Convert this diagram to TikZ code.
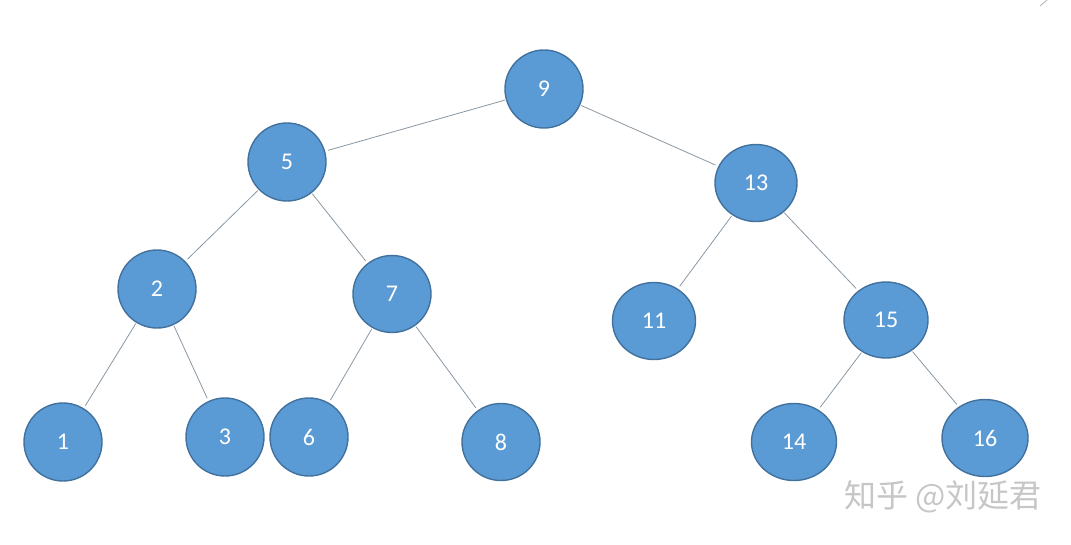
\documentclass[tikz,border=0pt]{standalone}
\usepackage{fontspec}
\setmainfont{Carlito}
\newfontfamily\cjk{Noto Sans CJK SC}
\usepackage{xcolor}
\usetikzlibrary{shapes.geometric}

\definecolor{nodefill}{HTML}{5B9BD5}
\definecolor{nodeline}{HTML}{41719C}
\definecolor{edgegray}{HTML}{8A97A3}
\definecolor{markgray}{HTML}{C6C6C6}

\begin{document}
\begin{tikzpicture}[x=1pt,y=-1pt,
    keynode/.style={ellipse,draw=nodeline,fill=nodefill,line width=1.4pt,
        minimum width=78pt,minimum height=78pt,inner sep=0pt,text=white,
        font=\fontsize{24}{24}\selectfont},
    treeedge/.style={draw=edgegray,line width=0.8pt,shorten <=1pt,shorten >=3pt}]

    % Рамка рисунка
    \useasboundingbox (0,0) rectangle (1071,544);

    % Корень и первый уровень
    \node[keynode] (n9) at (544,89) {9};
    \node[keynode] (n5) at (287,162) {5};
    \node[keynode,minimum width=82pt,minimum height=77pt] (n13) at (756,183) {13};

    % Второй уровень
    \node[keynode] (n2) at (157,289) {2};
    \node[keynode,minimum height=77pt] (n7) at (392,294) {7};
    \node[keynode,minimum width=83pt,minimum height=77pt] (n11) at (654,321) {11};
    \node[keynode,minimum width=84pt,minimum height=76pt] (n15) at (886,320) {15};

    % Листья
    \node[keynode] (n1) at (63,442) {1};
    \node[keynode] (n3) at (225,437) {3};
    \node[keynode] (n6) at (309,437) {6};
    \node[keynode,minimum height=77pt] (n8) at (501,442) {8};
    \node[keynode,minimum width=85pt,minimum height=77pt] (n14) at (794,442) {14};
    \node[keynode,minimum width=86pt,minimum height=77pt] (n16) at (985,438) {16};

    % Рёбра дерева
    \draw[treeedge] (n9) -- (n5);
    \draw[treeedge] (n9) -- (n13);
    \draw[treeedge] (n5) -- (n2);
    \draw[treeedge] (n5) -- (n7);
    \draw[treeedge] (n13) -- (n11);
    \draw[treeedge] (n13) -- (n15);
    \draw[treeedge] (n2) -- (n1);
    \draw[treeedge] (n2) -- (n3);
    \draw[treeedge] (n7) -- (n6);
    \draw[treeedge] (n7) -- (n8);
    \draw[treeedge] (n15) -- (n14);
    \draw[treeedge] (n15) -- (n16);

    % Подпись в углу
    \node[text=markgray,font=\cjk\fontsize{32}{32}\selectfont] (mark) at (943,497) {知乎 @刘延君};
    \coordinate (tickA) at (1040,6);
    \coordinate (tickB) at (1047,0);
    \draw[gray!60,line width=0.8pt] (tickA) -- (tickB);

\end{tikzpicture}
\end{document}
